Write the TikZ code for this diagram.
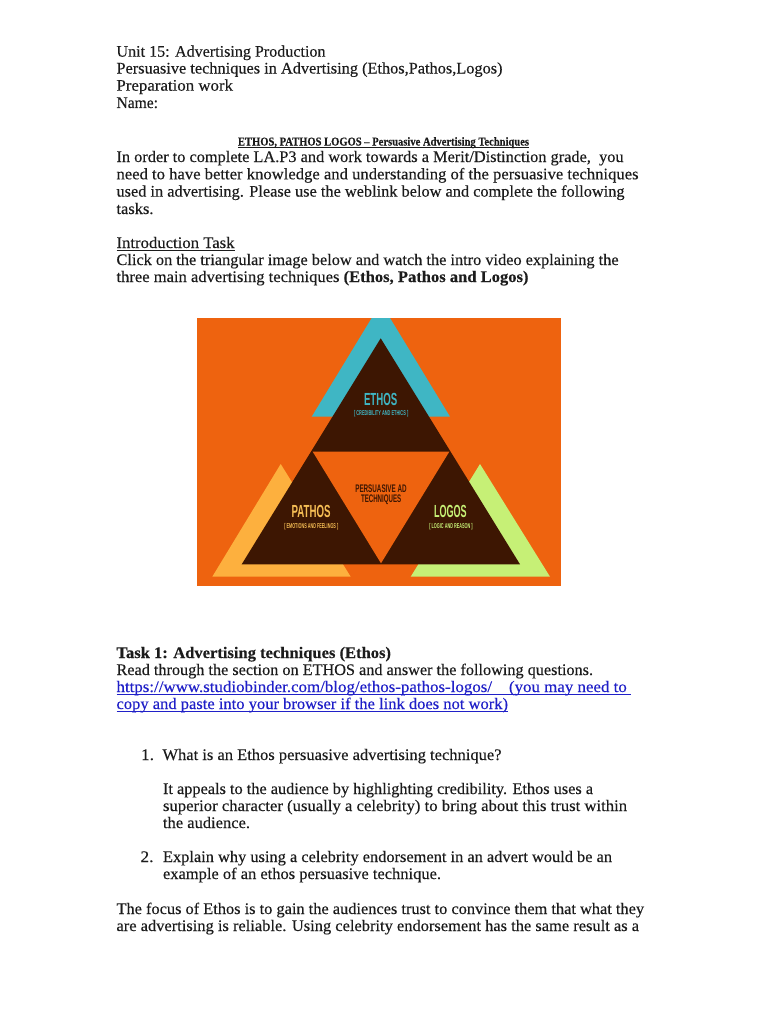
\documentclass[tikz,border=0pt]{standalone}
\usepackage{fontspec}
\setmainfont{Liberation Serif}[FakeBold=0.25]
\newfontfamily\lblfont{Liberation Sans}[Scale=1]
\newlength\px \setlength\px{0.75pt}
\definecolor{bgorange}{HTML}{EE630F}
\definecolor{teal1}{HTML}{3FB6C4}
\definecolor{dark1}{HTML}{3D1602}
\definecolor{amber1}{HTML}{FDB03E}
\definecolor{lime1}{HTML}{C6F076}
\definecolor{amtext}{HTML}{F6BE55}
\definecolor{inkc}{HTML}{1C1C1C}
\definecolor{linkc}{HTML}{2020C8}
\tikzset{
  tline/.style={anchor=base west,inner sep=0pt,outer sep=0pt,text=inkc,font=\fontsize{12.1pt}{14pt}\selectfont},
  lbl/.style={anchor=base west,inner sep=0pt,outer sep=0pt,font=\lblfont\bfseries}
}
\newcommand\tl[6][]{\node[tline,#1] (#2) at (#3,#4) {\resizebox{#5\px}{\height}{#6}};}
\newcommand\lb[7]{\node[lbl,text=#6] (#1) at (#2,#3) {\resizebox{#4\px}{\height}{\fontsize{#5}{#5}\selectfont #7}};}
\newcommand\ul[1]{\mbox{\rule{0pt}{1ex}\underline{\smash{#1}}}}
\begin{document}
\begin{tikzpicture}[x=0.75pt,y=-0.75pt]
\useasboundingbox (0,0) rectangle (768,1024);
\fill[white] (0,0) rectangle (768,1024);
% header
\tl{a1}{116.5}{56.7}{209}{Unit 15: Advertising Production}
\tl{a2}{116.5}{73.5}{386}{Persuasive techniques in Advertising (Ethos,Pathos,Logos)}
\tl{a3}{116.5}{90.7}{116.5}{Preparation work}
\tl{a4}{116.5}{108}{41.5}{Name:}
\tl[font=\fontsize{9pt}{10pt}\selectfont\bfseries]{h1}{238}{145.5}{291}{\ul{ETHOS, PATHOS LOGOS – Persuasive Advertising Techniques}}
\tl{b1}{116.5}{162}{507}{In order to complete LA.P3 and work towards a Merit/Distinction grade,\ \ you}
\tl{b2}{116.5}{179.3}{522}{need to have better knowledge and understanding of the persuasive techniques}
\tl{b3}{116.5}{196.6}{508}{used in advertising. Please use the weblink below and complete the following}
\tl{b4}{116.5}{214}{37}{tasks.}
\tl{c1}{116.5}{248}{118}{\ul{Introduction Task}}
\tl{c2}{116.5}{265}{502}{Click on the triangular image below and watch the intro video explaining the}
\tl{c3}{116.5}{282}{412}{three main advertising techniques \textbf{(Ethos, Pathos and Logos)}}
% image
\fill[bgorange] (197,318) rectangle (561,586);
\fill[teal1] (371.7,318) -- (390,318) -- (450,416.7) -- (311.7,416.7) -- cycle;
\fill[amber1] (280.7,464) -- (350.7,576.7) -- (212.3,576.7) -- cycle;
\fill[lime1] (480,464) -- (550,576.7) -- (410.7,576.7) -- cycle;
\fill[dark1] (380.7,338.3) -- (520,564.3) -- (241.7,564.3) -- cycle;
\fill[bgorange] (312.7,451.7) -- (449.3,451.7) -- (381,563.3) -- cycle;
\lb{e1}{364}{405}{33.3}{17.5\px}{teal1}{ETHOS}
\lb{e2}{354}{415.7}{54.3}{7\px}{teal1}{[ CREDIBILITY AND ETHICS ]}
\lb{p1}{291.7}{517.3}{39}{17.5\px}{amtext}{PATHOS}
\lb{p2}{284.3}{528.5}{54}{7\px}{amtext}{[ EMOTIONS AND FEELINGS ]}
\lb{l1}{434}{517.3}{32.7}{17.5\px}{lime1}{LOGOS}
\lb{l2}{429.3}{528.5}{43.4}{7\px}{lime1}{[ LOGIC AND REASON ]}
\lb{m1}{355.3}{492.3}{51.4}{11\px}{dark1}{PERSUASIVE AD}
\lb{m2}{361}{502.3}{40.3}{11\px}{dark1}{TECHNIQUES}
% task
\tl[font=\fontsize{12.1pt}{14pt}\selectfont\bfseries]{t1}{116.5}{658}{274.5}{Task 1: Advertising techniques (Ethos)}
\tl{t2}{116.5}{675}{476.5}{Read through the section on ETHOS and answer the following questions.}
\tl[text=linkc]{t3}{116.5}{692}{514.5}{\ul{https://www.studiobinder.com/blog/ethos-pathos-logos/\ \ \ \ (you may need to\ }}
\tl[text=linkc]{t4}{116.5}{709}{391.5}{\ul{copy and paste into your browser if the link does not work)}}
\tl{q1n}{141}{760}{13}{1.}
\tl{q1}{162.5}{760}{339}{What is an Ethos persuasive advertising technique?}
\tl{r1}{163}{794}{430}{It appeals to the audience by highlighting credibility. Ethos uses a}
\tl{r2}{163}{811}{464}{superior character (usually a celebrity) to bring about this trust within}
\tl{r3}{163}{828}{87}{the audience.}
\tl{q2n}{140.5}{862}{13}{2.}
\tl{q2}{163}{862}{449}{Explain why using a celebrity endorsement in an advert would be an}
\tl{q3}{163}{879}{278}{example of an ethos persuasive technique.}
\tl{s1}{116.5}{914}{527.5}{The focus of Ethos is to gain the audiences trust to convince them that what they}
\tl{s2}{116.5}{931}{522.5}{are advertising is reliable. Using celebrity endorsement has the same result as a}
\end{tikzpicture}
\end{document}
